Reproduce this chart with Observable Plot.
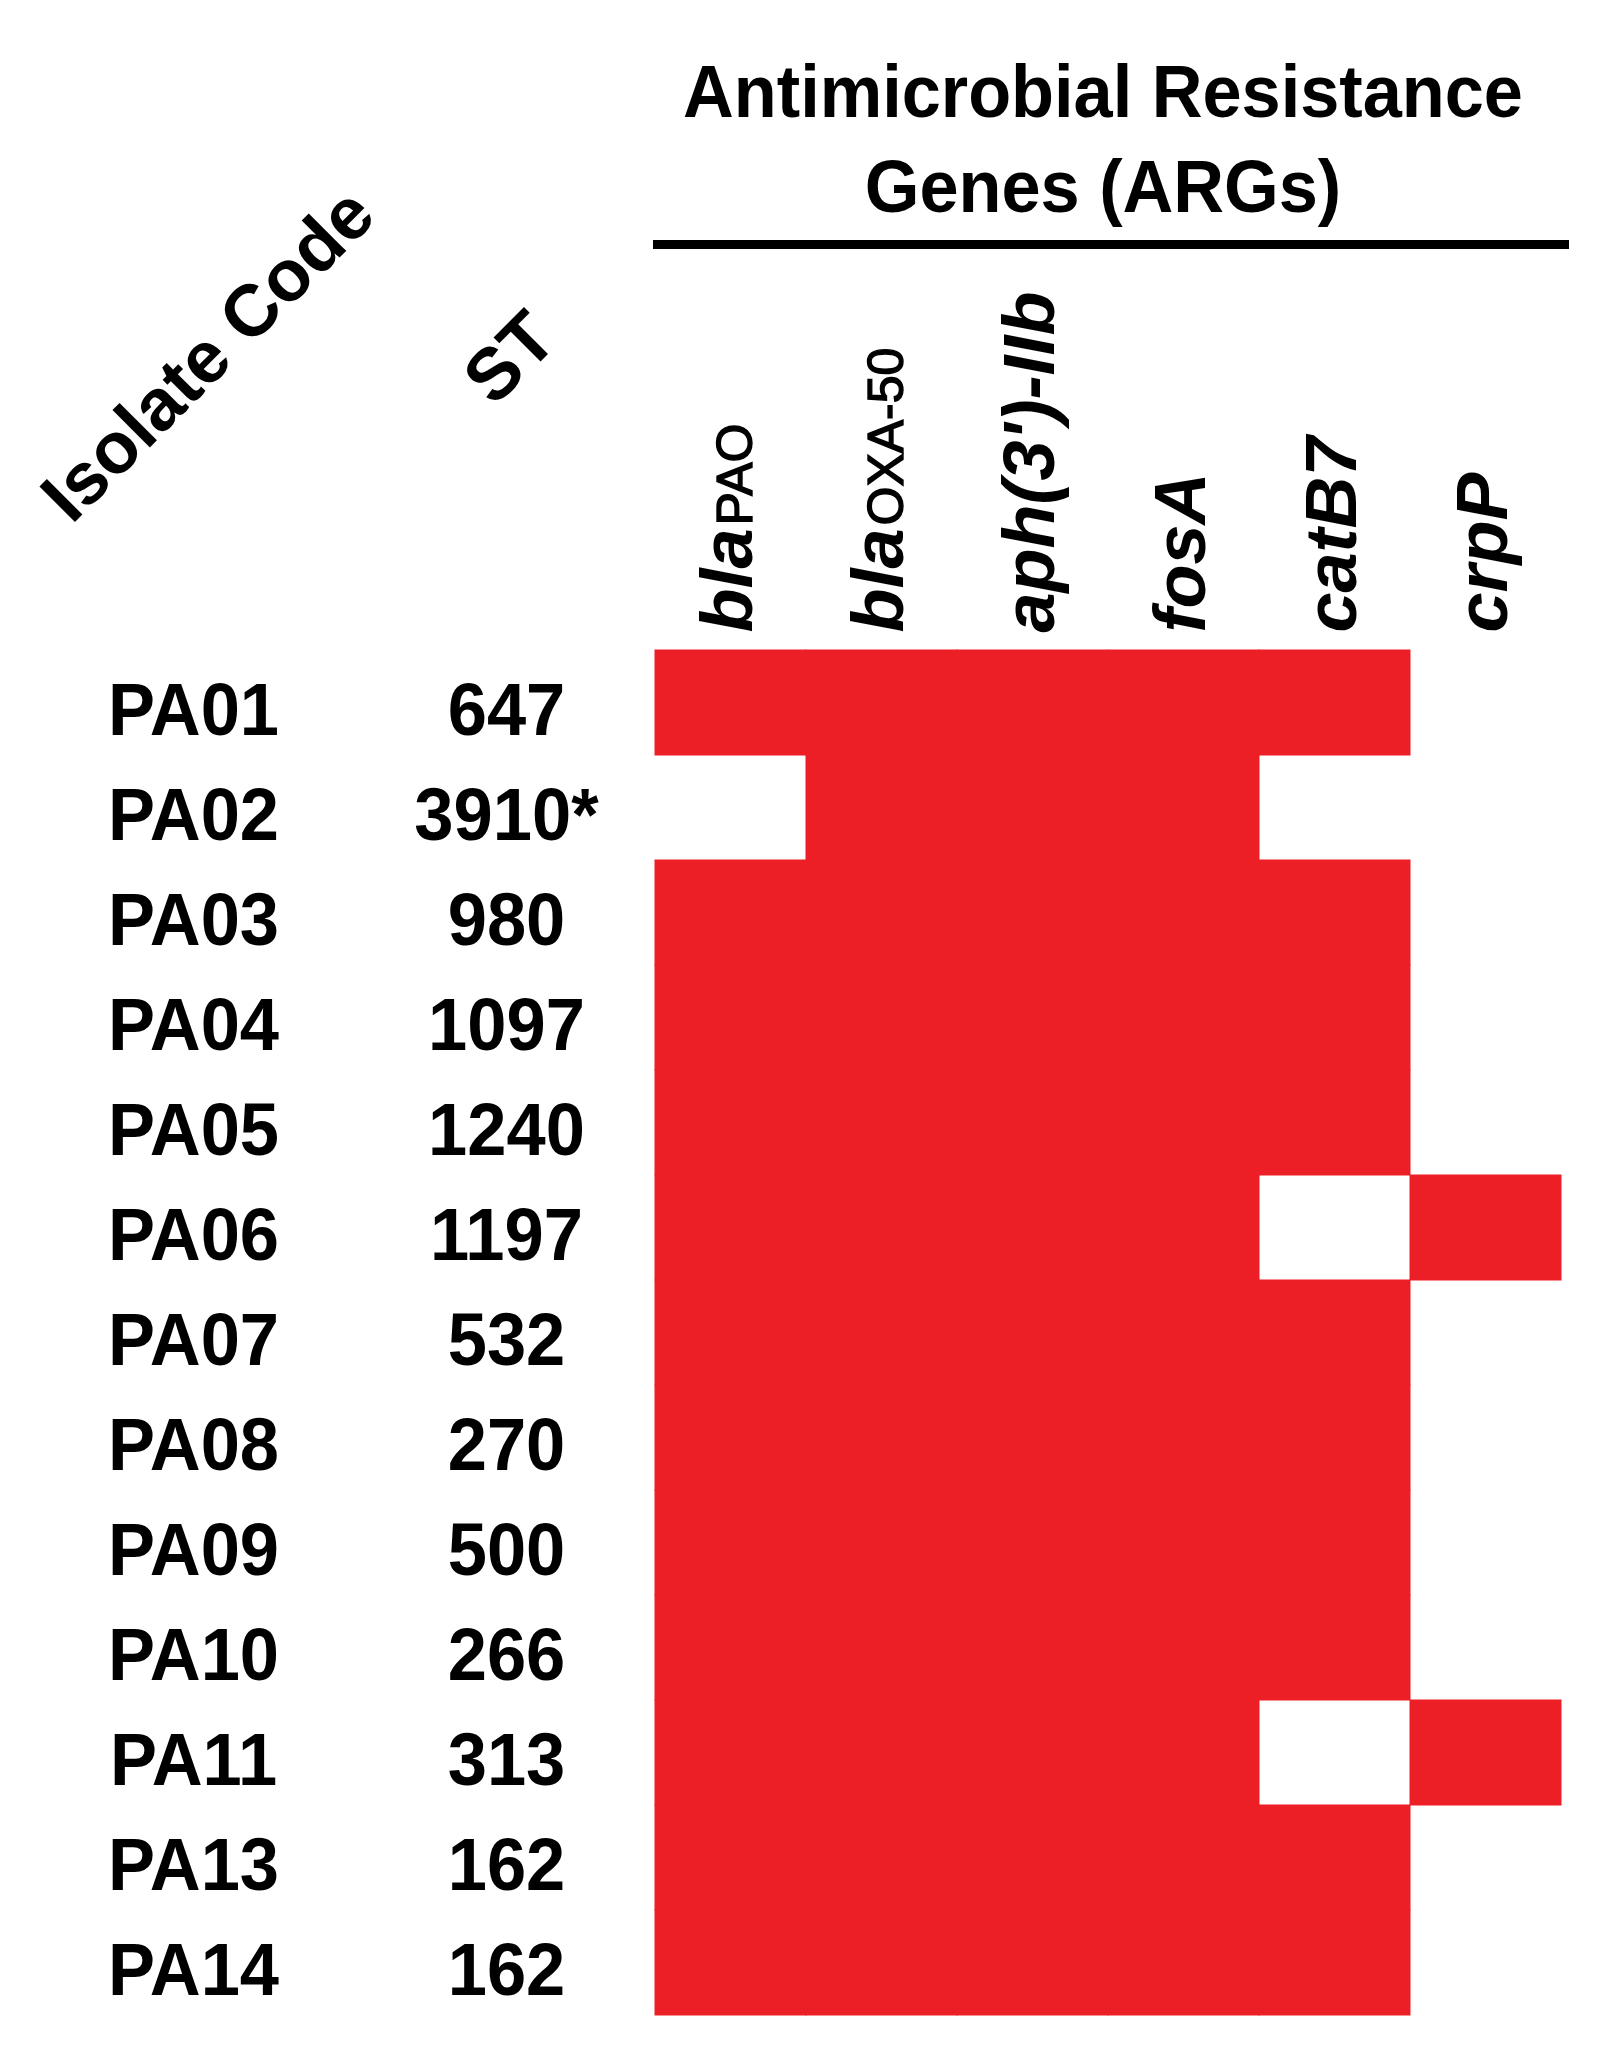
<!DOCTYPE html>
<html><head><meta charset="utf-8">
<script src="https://cdn.jsdelivr.net/npm/d3@7"></script>
<script src="https://cdn.jsdelivr.net/npm/@observablehq/plot@0.6"></script>
<style>
html,body{margin:0;padding:0;background:#fff;}
#chart{position:relative;width:1617px;height:2063px;font-family:"Liberation Sans",Arial,sans-serif;color:#000;}
.title{position:absolute;left:645px;width:916px;text-align:center;font-weight:bold;font-size:74px;line-height:95px;top:44px;white-space:nowrap;transform:scaleX(0.95);transform-origin:center;}
.rule{position:absolute;left:653px;top:240px;width:916px;height:9px;background:#000;}
.diag{position:absolute;font-weight:bold;font-size:73px;line-height:1;white-space:nowrap;transform:translate(-50%,-50%) rotate(-45deg);}
svg{position:absolute;left:0;top:0;}
</style></head><body><div id="chart">
<div class="title">Antimicrobial Resistance<br>Genes (ARGs)</div>
<div class="rule"></div>
<div class="diag" style="left:207px;top:354px;">Isolate Code</div>
<div class="diag" style="left:509px;top:357px;">ST</div>
</div>
<script>
const isolates = ["PA01","PA02","PA03","PA04","PA05","PA06","PA07","PA08","PA09","PA10","PA11","PA13","PA14"];
const sequenceTypes = ["647","3910*","980","1097","1240","1197","532","270","500","266","313","162","162"];
const genes = ["blaPAO","blaOXA-50","aph(3')-IIb","fosA","catB7","crpP"];
const geneMain = ["bla","bla","aph(3')-IIb","fosA","catB7","crpP"];
const geneSub = ["PAO","OXA-50","","","",""];
// 1 = gene present (rows follow isolates, columns follow genes)
const presence = [
  [1,1,1,1,1,0],
  [0,1,1,1,0,0],
  [1,1,1,1,1,0],
  [1,1,1,1,1,0],
  [1,1,1,1,1,0],
  [1,1,1,1,0,1],
  [1,1,1,1,1,0],
  [1,1,1,1,1,0],
  [1,1,1,1,1,0],
  [1,1,1,1,1,0],
  [1,1,1,1,0,1],
  [1,1,1,1,1,0],
  [1,1,1,1,1,0]
];
const red = "#ed1f26";
const cells = [];
isolates.forEach((iso, i) => genes.forEach((g, j) => {
  if (presence[i][j]) cells.push({isolate: iso, gene: g});
}));
const rows = isolates.map((iso, i) => ({isolate: iso, st: sequenceTypes[i]}));

const chart = Plot.plot({
  width: 1617,
  height: 2063,
  marginTop: 647,
  marginLeft: 653,
  marginRight: 54,
  marginBottom: 46,
  style: {fontFamily: '"Liberation Sans", Arial, sans-serif', background: "transparent"},
  x: {type: "band", domain: genes, padding: 0, axis: null},
  y: {type: "band", domain: isolates, padding: 0, axis: null},
  marks: [
    Plot.cell(cells, {x: "gene", y: "isolate", fill: red, stroke: red, strokeWidth: 1}),
    Plot.text(rows, {y: "isolate", text: "isolate", frameAnchor: "left", dx: -460, dy: 8, textAnchor: "middle", fontSize: 75, fontWeight: "bold", fill: "#000"}),
    Plot.text(rows, {y: "isolate", text: "st", frameAnchor: "left", dx: -147, dy: 8, textAnchor: "middle", fontSize: 75, fontWeight: "bold", fill: "#000"}),
    Plot.text(genes, {x: d => d, text: d => d, frameAnchor: "top", rotate: -90, textAnchor: "start", lineAnchor: "middle", dy: -15, dx: -2, fontSize: 72, fontWeight: "bold", fontStyle: "italic", fill: "#000"})
  ]
});
document.getElementById("chart").appendChild(chart);

const rowTexts = new Set([...isolates, ...sequenceTypes]);
d3.select(chart).selectAll("text").each(function() {
  const t = d3.select(this);
  const content = this.textContent;
  // slightly condensed row labels, as in the original figure
  if (rowTexts.has(content)) {
    const w = this.getComputedTextLength();
    if (w > 0) {
      this.setAttribute("textLength", (w * 0.94).toFixed(1));
      this.setAttribute("lengthAdjust", "spacingAndGlyphs");
    }
    return;
  }
  // render the "bla" gene names with a roman subscript
  const k = genes.indexOf(content);
  if (k >= 0 && geneSub[k]) {
    t.text(null);
    t.append("tspan").text(geneMain[k]);
    t.append("tspan").attr("font-style", "normal").attr("font-weight", "normal")
      .attr("font-size", 50).attr("dx", 3)
      .attr("stroke", "#000").attr("stroke-width", 1.4).text(geneSub[k]);
  }
});
</script>
</body></html>
